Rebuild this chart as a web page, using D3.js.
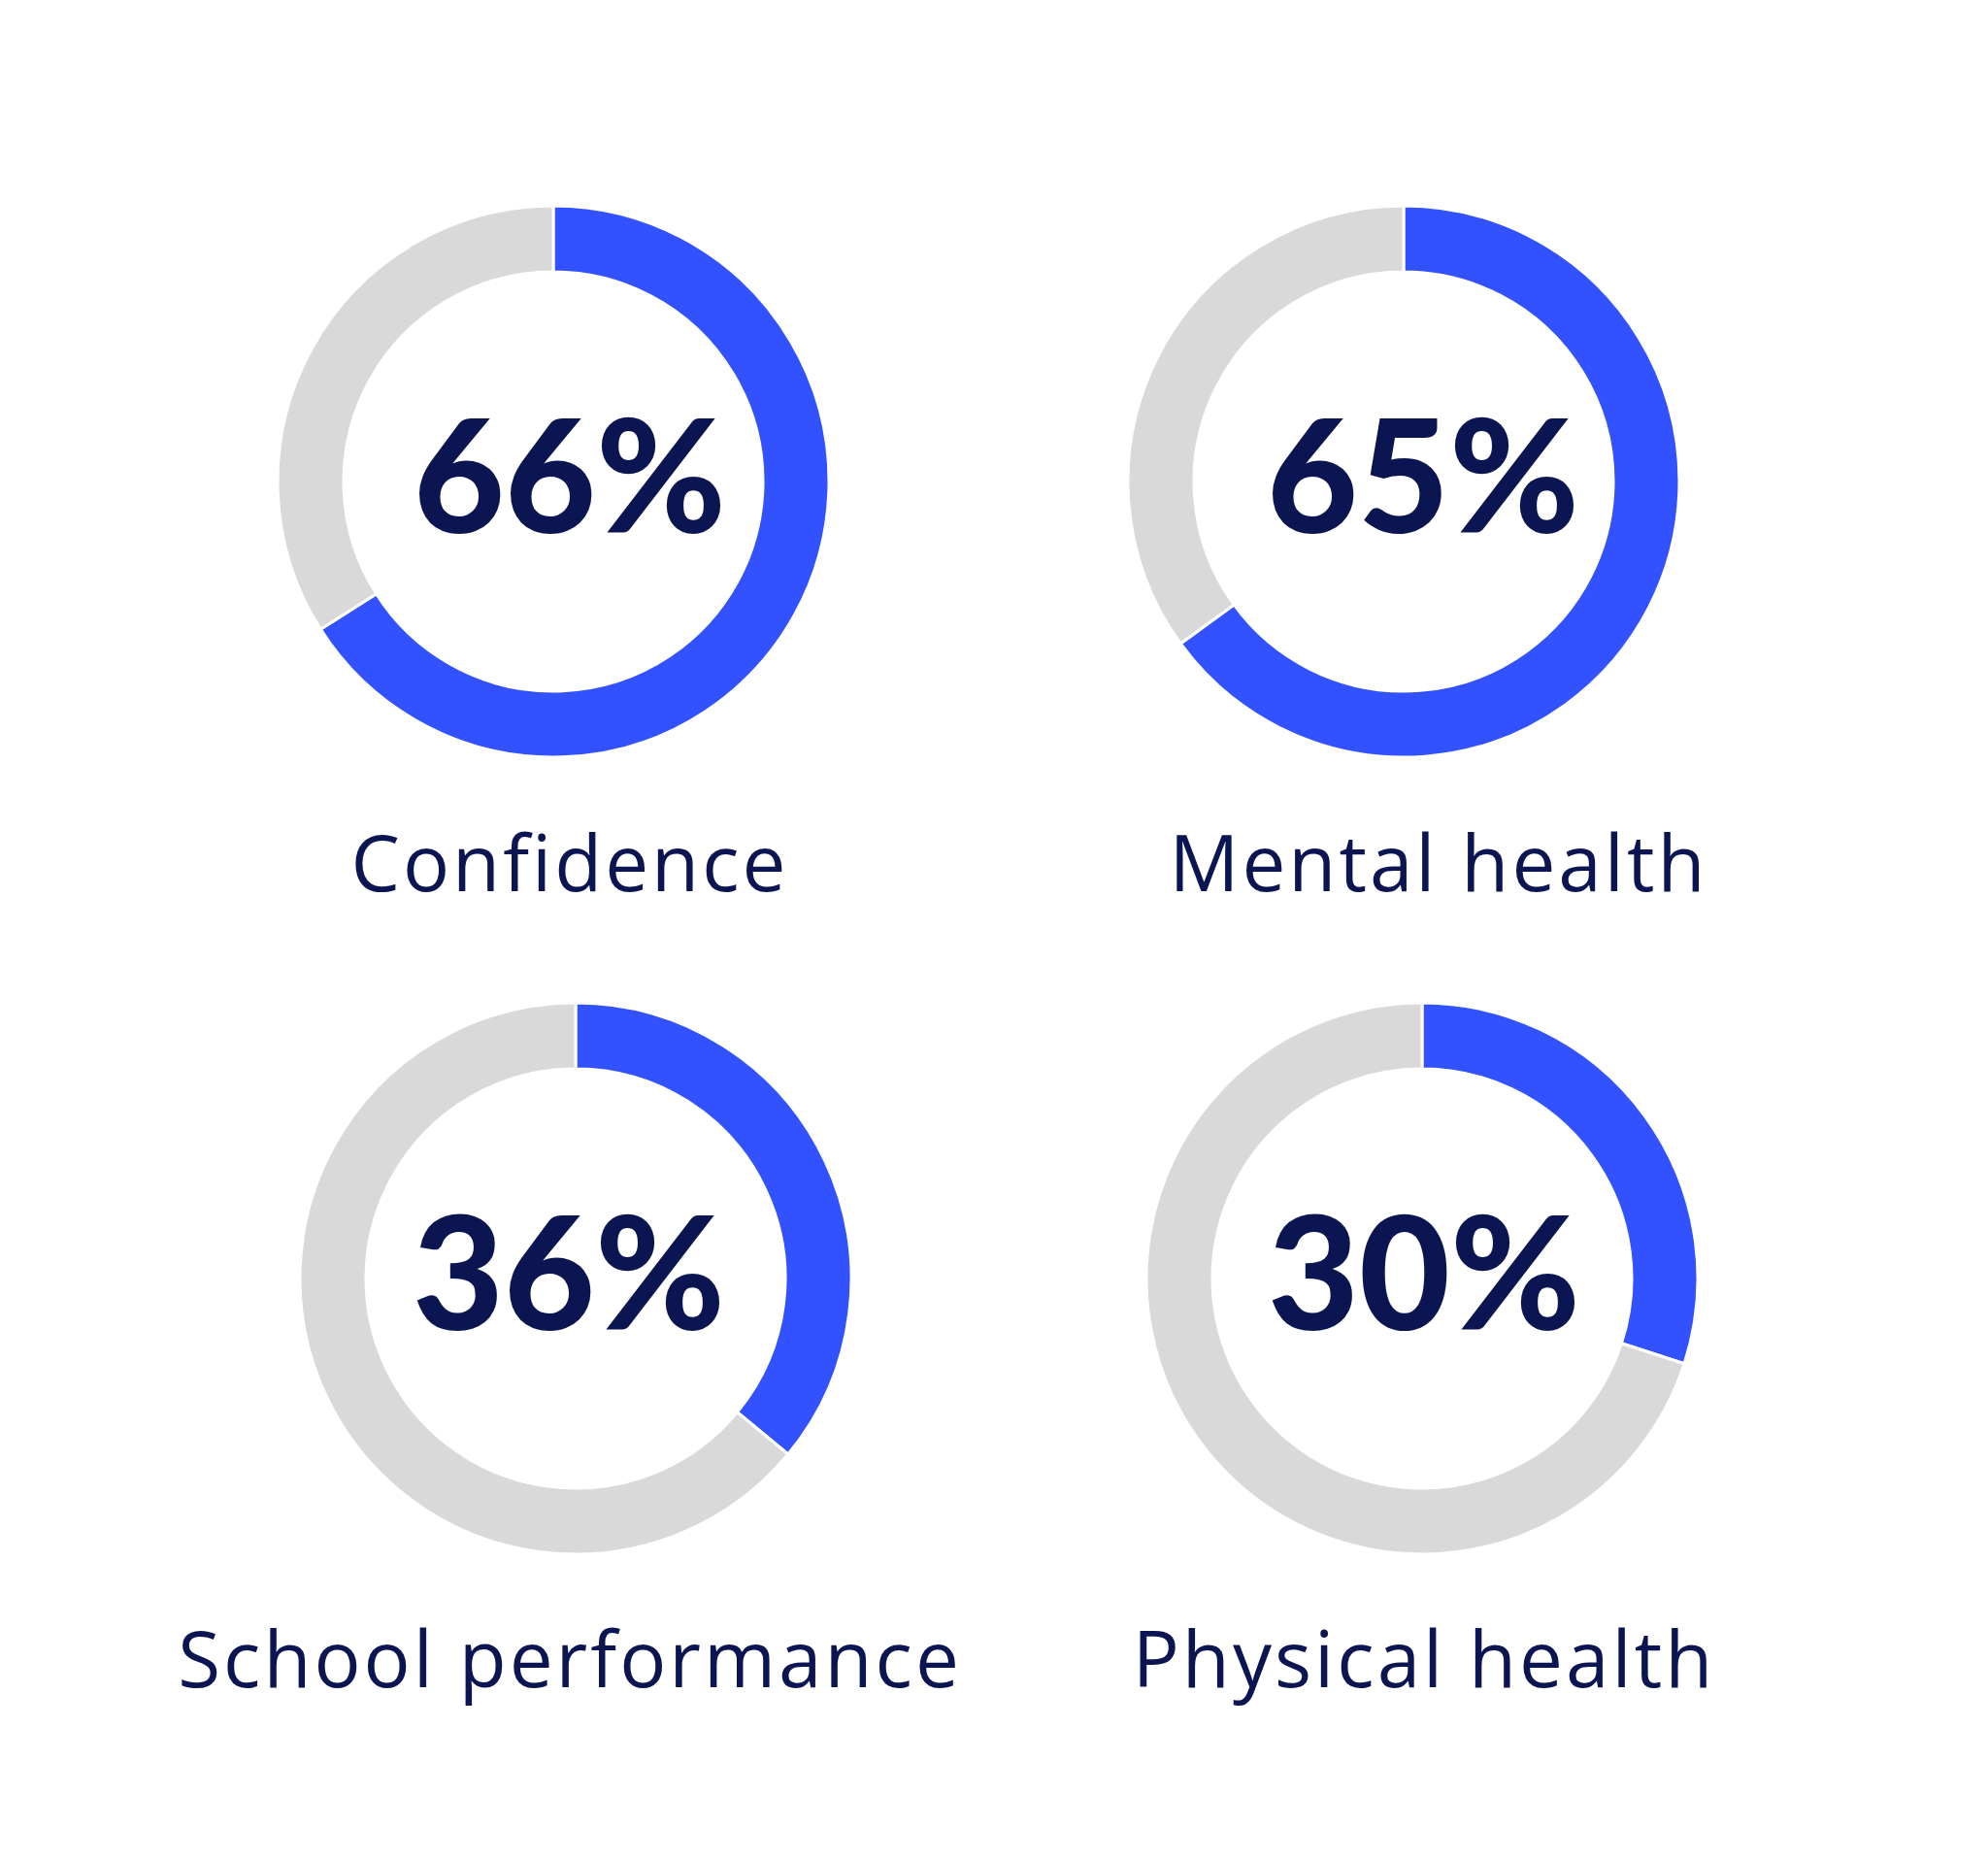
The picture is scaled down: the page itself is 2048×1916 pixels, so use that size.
<!DOCTYPE html>
<html>
<head>
    <title>Donut Panels</title>
    <script src="https://cdnjs.cloudflare.com/ajax/libs/d3/7.8.5/d3.min.js"></script>
    <style>
        body { margin: 0; background: #fff; }
        .value-label {
            font-family: Lato, Inter, sans-serif;
            font-weight: 900;
            font-size: 162px;
            fill: #0b1551;
        }
        .cat-label {
            font-family: "Open Sans", sans-serif;
            font-weight: 400;
            font-size: 80px;
            letter-spacing: 3px;
            fill: #0b1551;
        }
    </style>
</head>
<body>
    <div id="chart"></div>
    <script>
        // Data
        const categories = ['Confidence', 'Mental health', 'School performance', 'Physical health'];
        const values = [66, 65, 36, 30];
        const total = 100;

        // Layout: donut centre, x of the number, x and baseline of the label
        const width = 2048;
        const height = 1916;
        const panels = [
            { cx: 570, cy: 496, nx: 587, lx: 587, ly: 918 },
            { cx: 1446, cy: 496, nx: 1466, lx: 1482, ly: 918 },
            { cx: 593, cy: 1317, nx: 586, lx: 587, ly: 1738 },
            { cx: 1465, cy: 1317, nx: 1467, lx: 1467, ly: 1738 }
        ];
        const outerR = 284;
        const innerR = 216;
        const colors = ['#3352ff', '#d9d9d9'];

        const svg = d3.select('#chart')
            .append('svg')
            .attr('width', width)
            .attr('height', height);

        const pie = d3.pie().sort(null).value(d => d);
        const arc = d3.arc().innerRadius(innerR).outerRadius(outerR);

        const groups = svg.selectAll('.panel')
            .data(categories.map((c, i) => ({ name: c, value: values[i], pos: panels[i] })))
            .enter()
            .append('g')
            .attr('class', 'panel');

        // Donut rings
        groups.append('g')
            .attr('transform', d => `translate(${d.pos.cx},${d.pos.cy})`)
            .selectAll('path')
            .data(d => pie([d.value, total - d.value]))
            .enter()
            .append('path')
            .attr('d', arc)
            .attr('fill', (d, i) => colors[i])
            .attr('stroke', '#fff')
            .attr('stroke-width', 3);

        // Percentage in the middle
        groups.append('text')
            .attr('class', 'value-label')
            .attr('x', d => d.pos.nx)
            .attr('y', d => d.pos.cy + 53)
            .attr('text-anchor', 'middle')
            .text(d => d.value + '%');

        // Category labels
        groups.append('text')
            .attr('class', 'cat-label')
            .attr('x', d => d.pos.lx)
            .attr('y', d => d.pos.ly)
            .attr('text-anchor', 'middle')
            .text(d => d.name);
    </script>
</body>
</html>
